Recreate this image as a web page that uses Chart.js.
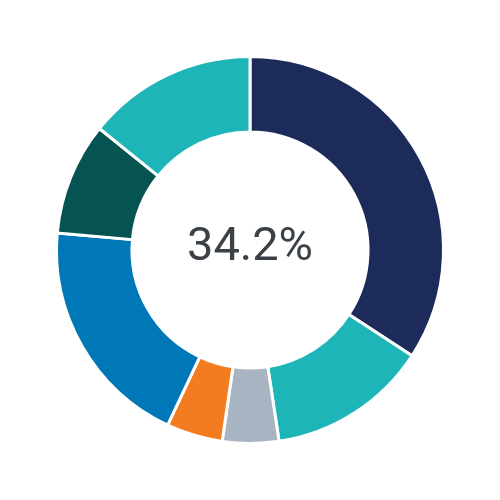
<!DOCTYPE html>
<html>
<head>
<meta charset="utf-8">
<script src="https://cdn.jsdelivr.net/npm/chart.js@4.4.0/dist/chart.umd.min.js"></script>
<style>
  html, body { margin: 0; padding: 0; background: #fff; }
  #wrap { width: 500px; height: 500px; }
</style>
</head>
<body>
<div id="wrap"><canvas id="grafica"></canvas></div>
<script>
const labels = ["A", "B", "C", "D", "E", "F", "G"];
const valores = [34.2, 13.4, 4.7, 4.7, 19.4, 9.4, 14.2];
const colores = ["#1c2b5a", "#1db5b7", "#a9b4c2", "#f47c20", "#0077b6", "#065452", "#1db5b7"];
const centroTexto = "34.2%";

function centerTextPlugin() {
  return {
    id: "centerText",
    afterDraw(c) {
      const ctx = c.ctx;
      const meta = c.getDatasetMeta(0).data[0];
      if (!meta) return;
      ctx.save();
      ctx.font = "400 47px Roboto, 'Noto Sans', sans-serif";
      ctx.fillStyle = "#3c4146";
      ctx.textAlign = "center";
      ctx.textBaseline = "middle";
      ctx.fillText(centroTexto, meta.x, meta.y - 2);
      ctx.restore();
    }
  };
}

new Chart(document.getElementById("grafica"), {
  type: "doughnut",
  data: {
    labels,
    datasets: [{
      data: valores,
      backgroundColor: colores,
      borderColor: "#ffffff",
      borderWidth: 3
    }]
  },
  options: {
    responsive: true,
    maintainAspectRatio: false,
    animation: false,
    cutout: "61%",
    layout: { padding: 55 },
    plugins: {
      legend: { display: false },
      tooltip: { enabled: false }
    }
  },
  plugins: [centerTextPlugin()]
});
</script>
</body>
</html>
